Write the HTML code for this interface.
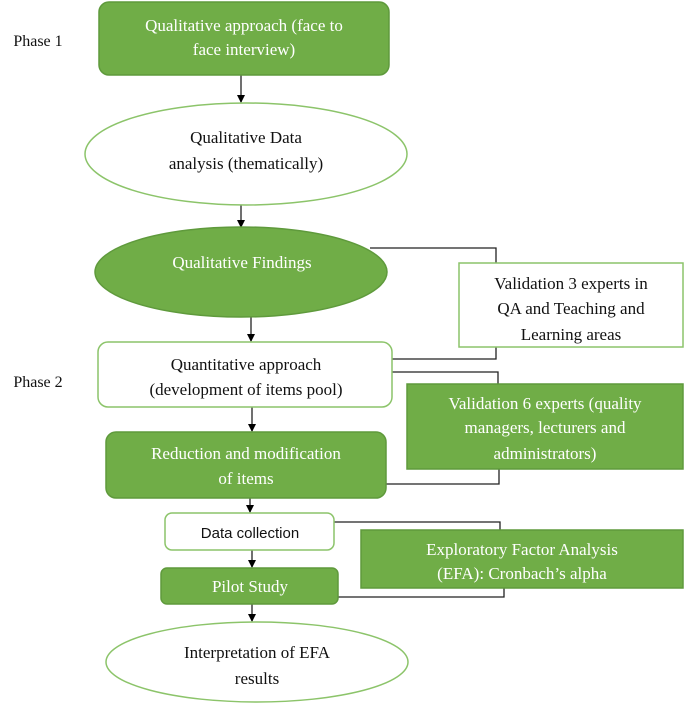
<!DOCTYPE html>
<html><head><meta charset="utf-8"><style>
html,body{margin:0;padding:0;background:#fff;}
svg{display:block;}
text{font-family:"Liberation Serif",serif;font-size:17px;text-anchor:middle;}
.w{fill:#fff;}
.k{fill:#111;}
</style></head><body>
<svg width="685" height="705" viewBox="0 0 685 705" xmlns="http://www.w3.org/2000/svg">
<defs><marker id="a" markerWidth="8" markerHeight="8" refX="7" refY="4" orient="auto" markerUnits="userSpaceOnUse"><path d="M0,0 L8,4 L0,8 z" fill="#000"/></marker></defs>
<g fill="none" stroke="#222" stroke-width="1.3">
<line x1="241" y1="75" x2="241" y2="102" marker-end="url(#a)"/>
<line x1="241" y1="204" x2="241" y2="227" marker-end="url(#a)"/>
<line x1="251" y1="317" x2="251" y2="341" marker-end="url(#a)"/>
<line x1="252" y1="407" x2="252" y2="431" marker-end="url(#a)"/>
<line x1="250" y1="498" x2="250" y2="512" marker-end="url(#a)"/>
<line x1="252" y1="550" x2="252" y2="567" marker-end="url(#a)"/>
<line x1="252" y1="604" x2="252" y2="621" marker-end="url(#a)"/>
<polyline points="370,248 496,248 496,359 392,359"/>
<polyline points="392,372 498,372 498,384"/>
<polyline points="386,484 499,484 499,469"/>
<polyline points="334,522 500,522 500,530"/>
<polyline points="338,597 504,597 504,588"/>
</g>
<g stroke="#5f9a3c" stroke-width="1.5">
<rect x="99" y="2" width="290" height="73" rx="10" fill="#70ad47"/>
<ellipse cx="246" cy="154" rx="161" ry="51" fill="#fff" stroke="#8cc46a"/>
<ellipse cx="241" cy="272" rx="146" ry="45" fill="#70ad47"/>
<rect x="459" y="263" width="224" height="84" fill="#fff" stroke="#8cc46a"/>
<rect x="98" y="342" width="294" height="65" rx="10" fill="#fff" stroke="#8cc46a"/>
<rect x="407" y="384" width="276" height="85" fill="#70ad47"/>
<rect x="106" y="432" width="280" height="66" rx="10" fill="#70ad47"/>
<rect x="165" y="513" width="169" height="37" rx="7" fill="#fff" stroke="#8cc46a"/>
<rect x="361" y="530" width="322" height="58" fill="#70ad47"/>
<rect x="161" y="568" width="177" height="36" rx="6" fill="#70ad47"/>
<ellipse cx="257" cy="662" rx="151" ry="40" fill="#fff" stroke="#8cc46a"/>
</g>
<text x="38" y="46" class="k" style="font-size:16px">Phase 1</text>
<text x="38" y="387" class="k" style="font-size:16px">Phase 2</text>
<text x="244" y="31" class="w">Qualitative approach (face to</text>
<text x="244" y="55" class="w">face interview)</text>
<text x="246" y="143" class="k">Qualitative Data</text>
<text x="246" y="169" class="k">analysis (thematically)</text>
<text x="242" y="268" class="w">Qualitative Findings</text>
<text x="571" y="289" class="k">Validation 3 experts in</text>
<text x="571" y="314" class="k">QA and Teaching and</text>
<text x="571" y="340" class="k">Learning areas</text>
<text x="246" y="370" class="k">Quantitative approach</text>
<text x="246" y="395" class="k">(development of items pool)</text>
<text x="545" y="409" class="w">Validation 6 experts (quality</text>
<text x="545" y="433" class="w">managers, lecturers and</text>
<text x="545" y="459" class="w">administrators)</text>
<text x="246" y="459" class="w">Reduction and modification</text>
<text x="246" y="484" class="w">of items</text>
<text x="250" y="538" class="k" style="font-family:'Liberation Sans',sans-serif;font-size:15px">Data collection</text>
<text x="522" y="555" class="w">Exploratory Factor Analysis</text>
<text x="522" y="579" class="w">(EFA): Cronbach’s alpha</text>
<text x="250" y="592" class="w">Pilot Study</text>
<text x="257" y="658" class="k">Interpretation of EFA</text>
<text x="257" y="684" class="k">results</text>
</svg>
</body></html>
